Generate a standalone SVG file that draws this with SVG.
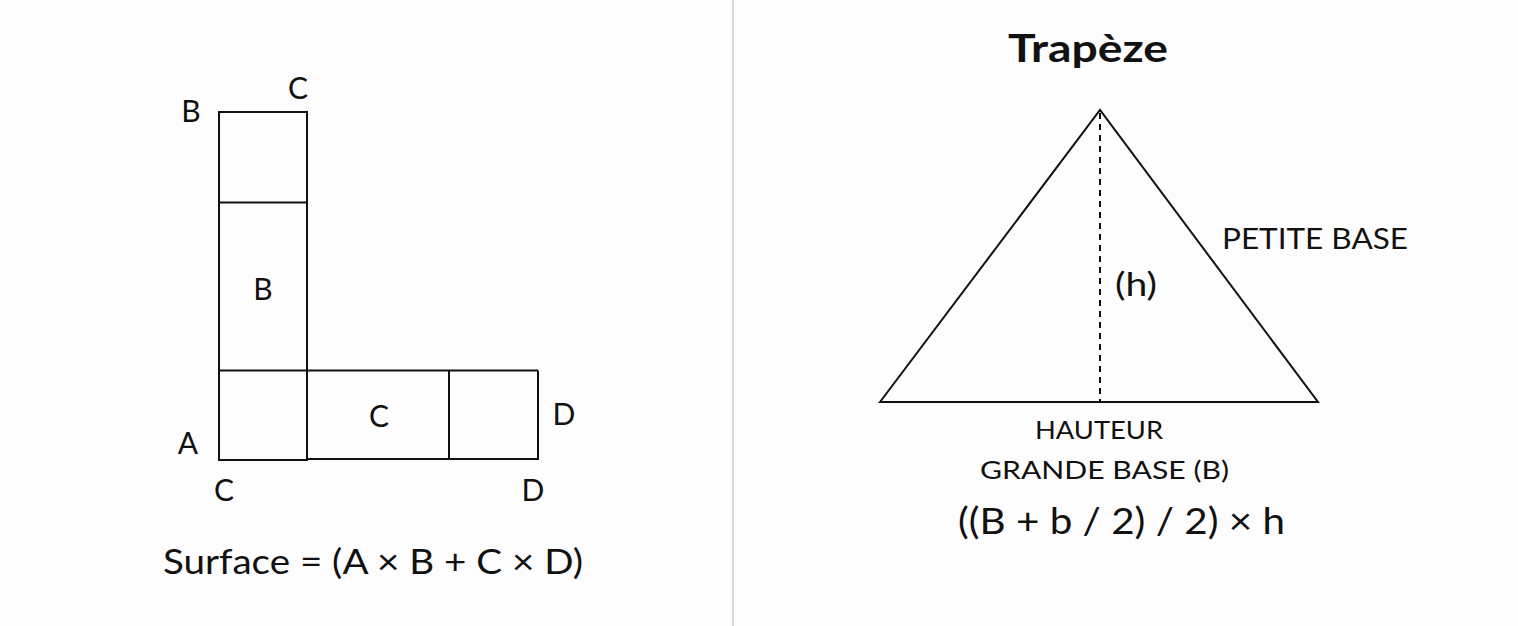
<svg xmlns="http://www.w3.org/2000/svg" width="1518" height="626" viewBox="0 0 1518 626">
<style>
.t{font-family:Lato,"Open Sans","Liberation Sans",sans-serif;fill:#111;}
.s{fill:none;stroke:#111;stroke-width:2;}
</style>
<rect width="1518" height="626" fill="#fdfdfd"/>
<line x1="733" y1="0" x2="733" y2="626" stroke="#d8d8d8" stroke-width="2"/>
<g id="l-shape">
<rect class="s" x="219" y="112" width="88" height="348"/>
<line class="s" x1="219" y1="202.5" x2="307" y2="202.5"/>
<line class="s" x1="219" y1="370.5" x2="538" y2="370.5"/>
<line class="s" x1="307" y1="459" x2="538" y2="459"/>
<line class="s" x1="538" y1="370.5" x2="538" y2="460"/>
<line class="s" x1="449" y1="370.5" x2="449" y2="459"/>
<text class="t" x="191" y="122" font-size="30" text-anchor="middle">B</text>
<text class="t" x="298" y="99" font-size="30" text-anchor="middle">C</text>
<text class="t" x="263" y="300" font-size="30" text-anchor="middle">B</text>
<text class="t" x="379" y="427" font-size="30" text-anchor="middle">C</text>
<text class="t" x="564" y="425" font-size="30" text-anchor="middle">D</text>
<text class="t" x="188" y="454" font-size="30" text-anchor="middle">A</text>
<text class="t" x="224" y="501" font-size="30" text-anchor="middle">C</text>
<text class="t" x="533" y="501" font-size="30" text-anchor="middle">D</text>
<text class="t" x="163" y="574" font-size="34" textLength="420" lengthAdjust="spacingAndGlyphs">Surface = (A × B + C × D)</text>
</g>
<g id="triangle">
<text class="t" x="1008" y="62" font-size="38" font-weight="bold" textLength="160" lengthAdjust="spacingAndGlyphs">Trapèze</text>
<polygon class="s" points="880,402 1100,110 1318,402" stroke-linejoin="miter"/>
<line x1="1100" y1="113" x2="1100" y2="402" stroke="#111" stroke-width="2" stroke-dasharray="6,5"/>
<text class="t" x="1222" y="249" font-size="28" textLength="186" lengthAdjust="spacingAndGlyphs">PETITE BASE</text>
<text class="t" x="1115" y="296" font-size="33" textLength="42" lengthAdjust="spacingAndGlyphs">(h)</text>
<text class="t" x="1099" y="439" font-size="25" text-anchor="middle" textLength="128" lengthAdjust="spacingAndGlyphs">HAUTEUR</text>
<text class="t" x="980" y="479" font-size="25" textLength="249" lengthAdjust="spacingAndGlyphs">GRANDE BASE (B)</text>
<text class="t" x="958" y="534" font-size="37" textLength="327" lengthAdjust="spacingAndGlyphs">((B + b / 2) / 2) × h</text>
</g>
</svg>
